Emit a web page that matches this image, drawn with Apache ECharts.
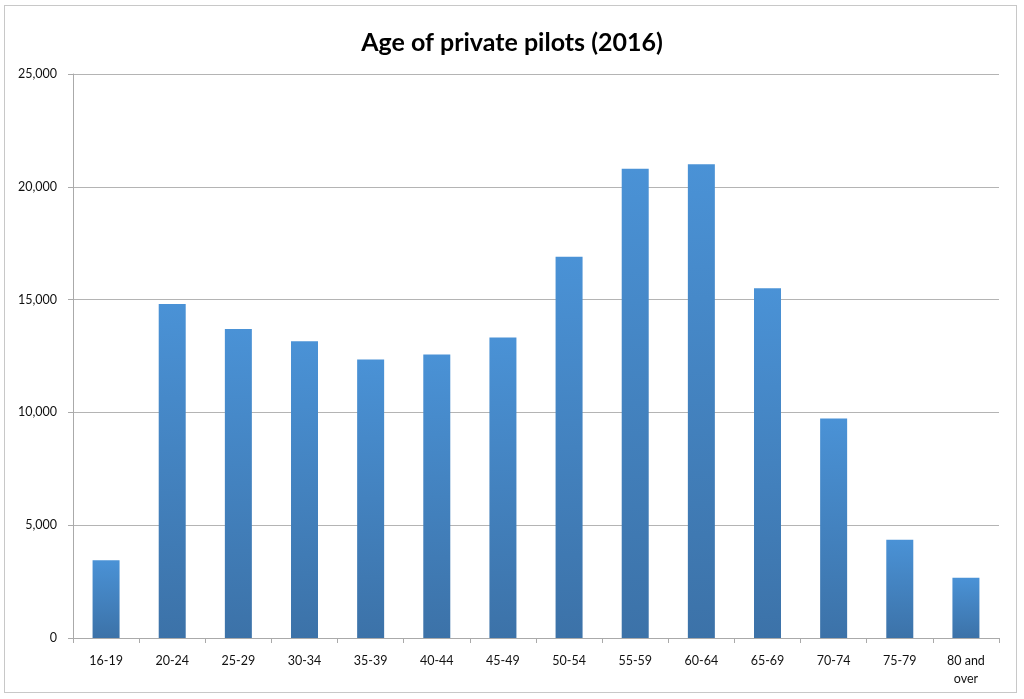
<!DOCTYPE html>
<html>
<head>
<meta charset="utf-8">
<script src="https://cdn.jsdelivr.net/npm/echarts@6/dist/echarts.min.js"></script>
<style>
html,body{margin:0;padding:0;background:#fff;}
#wrap{position:absolute;left:4px;top:5px;width:1013px;height:688px;border:1.5px solid #c8c8c8;box-sizing:border-box;}
#chart{position:absolute;left:0;top:0;width:1024px;height:699px;}
</style>
</head>
<body>
<div id="wrap"></div>
<div id="chart"></div>
<script>
const categories = ["16-19","20-24","25-29","30-34","35-39","40-44","45-49","50-54","55-59","60-64","65-69","70-74","75-79","80 and\nover"];
const pilots = [3450,14800,13700,13150,12350,12570,13320,16900,20800,21000,15500,9730,4360,2670];
const yTicks = {min:0,max:25000,interval:5000};

const chart = echarts.init(document.getElementById('chart'));
chart.setOption({
  animation:false,
  title:{
    text:'Age of private pilots (2016)',
    left:'center', top:25,
    textStyle:{fontFamily:'Lato',fontWeight:'bold',fontSize:25,color:'#000'}
  },
  grid:{left:73,right:25,top:74,bottom:61},
  xAxis:{
    type:'category',
    data:categories,
    axisLine:{lineStyle:{color:'#aaaaaa',width:1}},
    axisTick:{show:true,alignWithLabel:false,length:5,lineStyle:{color:'#aaaaaa'}},
    axisLabel:{color:'#111',fontFamily:'Lato',fontSize:12.5,margin:14,lineHeight:18,interval:0}
  },
  yAxis:{
    type:'value',
    min:yTicks.min,max:yTicks.max,interval:yTicks.interval,
    axisLine:{show:true,lineStyle:{color:'#aaaaaa',width:1}},
    axisTick:{show:true,length:5,lineStyle:{color:'#aaaaaa'}},
    splitLine:{lineStyle:{color:'#b4b4b4',width:1}},
    axisLabel:{color:'#111',fontFamily:'Lato',fontSize:12.5,margin:16,
      formatter:v=>v.toLocaleString('en-US')}
  },
  series:[{
    type:'bar',
    data:pilots,
    barWidth:27,
    itemStyle:{
      color:new echarts.graphic.LinearGradient(0,0,0,1,[
        {offset:0,color:'#4a92d6'},
        {offset:1,color:'#3c72a8'}
      ])
    }
  }]
});
</script>
</body>
</html>
